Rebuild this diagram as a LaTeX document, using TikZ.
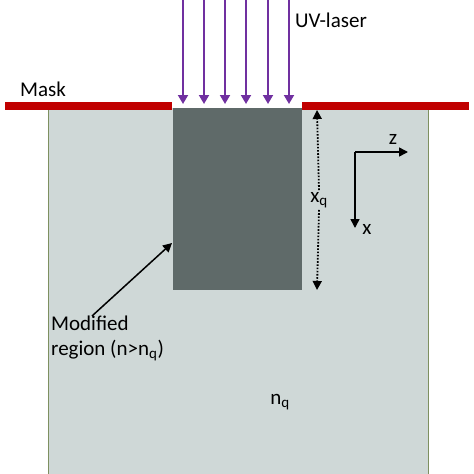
\documentclass[tikz,border=0pt]{standalone}
\usepackage{fontspec}
\setmainfont{Carlito}
\usetikzlibrary{arrows.meta}
\definecolor{sub}{HTML}{CFD8D7}
\definecolor{subedge}{HTML}{7E9060}
\definecolor{modc}{HTML}{5F6A69}
\definecolor{maskc}{HTML}{C00000}
\definecolor{uvc}{HTML}{7030A0}
\tikzset{
  lbl/.style={font=\fontsize{21}{25}\selectfont, inner sep=0pt},
  uv/.style={draw=uvc, line width=1.8pt, -{Triangle[length=9pt,width=10pt]}},
  blk/.style={draw=black, line width=1.5pt, -{Triangle[length=9pt,width=9pt]}},
  dotln/.style={dash pattern=on 1.6pt off 1.6pt},
}
\newcommand{\sbq}{\textsubscript{\fontsize{15}{15}\selectfont q}}
\begin{document}
\begin{tikzpicture}[x=1pt,y=-1pt]
\useasboundingbox (0,0) rectangle (474,474);
% substrate
\fill[sub] (48,108) rectangle (428,474);
\draw[subedge, line width=1pt] (48,474) -- (48,108);
\draw[subedge, line width=1pt] (428,474) -- (428,108);
% modified region
\node[fill=modc, minimum width=129pt, minimum height=182pt, inner sep=0pt, anchor=north west] (mod) at (173,108) {};
% mask
\fill[maskc] (5,102) rectangle (172,110);
\fill[maskc] (302,102) rectangle (469,110);
\node[lbl, anchor=west] (mask) at (20,89) {Mask};
% UV arrows
\foreach \i/\xx in {1/183,2/204,3/225,4/246,5/268,6/289} {
  \coordinate (t\i) at (\xx,0);
  \coordinate (b\i) at (\xx,104);
  \draw[uv] (t\i) -- (b\i);
}
\node[lbl, anchor=west] (uvl) at (295,20) {UV-laser};
% xq dimension
\coordinate (xqt) at (317,110);
\coordinate (xqb) at (317,290);
\node[lbl, fill=sub, inner sep=2pt] (xq) at (319,200) {x\sbq};
\draw[blk, dotln, line width=1.8pt] (xq.north) -- (xqt);
\draw[blk, dotln, line width=1.8pt] (xq.south) -- (xqb);
% axes
\coordinate (o) at (355,152);
\coordinate (zend) at (408,152);
\coordinate (xend) at (355,228);
\draw[blk] (o) -- (zend);
\draw[blk] (o) -- (xend);
\node[lbl] (zl) at (393,139) {z};
\node[lbl] (xl) at (367,229) {x};
% modified label
\node[lbl, anchor=north west, align=left] (modl) at (51,316) {Modified\\region (n>n\sbq)};
\coordinate (mp) at (92,316);
\draw[blk] (mp) -- (172,243);
% nq
\node[lbl] (nq) at (280,402) {n\sbq};
\end{tikzpicture}
\end{document}
